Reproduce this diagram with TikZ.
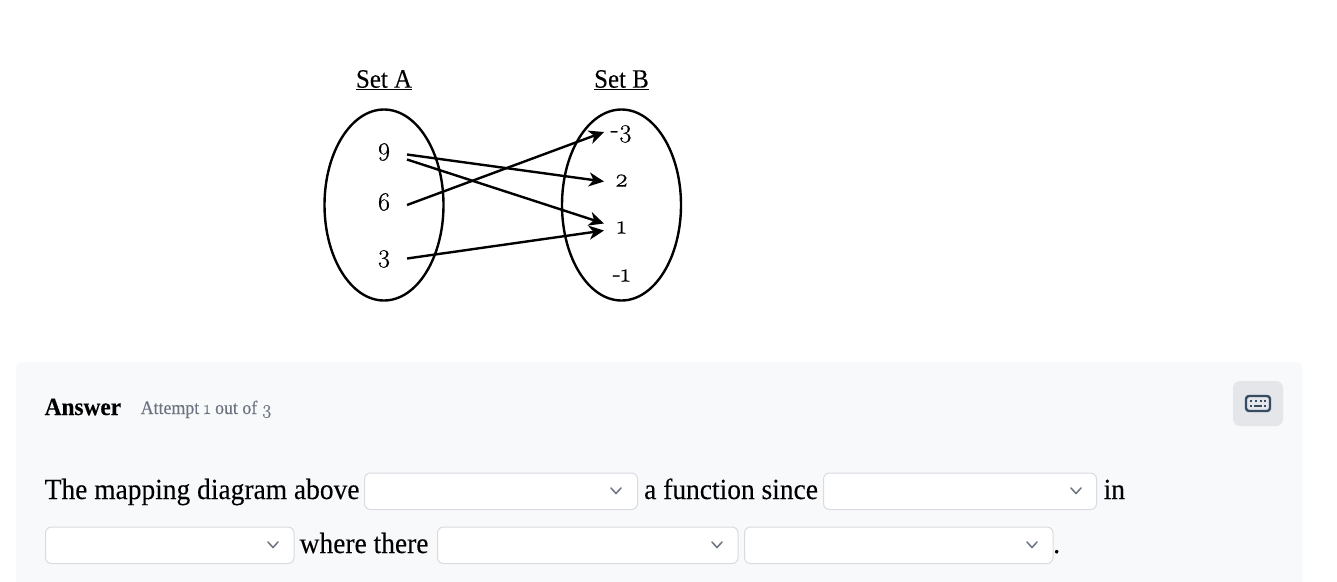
\documentclass[tikz,border=0pt]{standalone}
\usepackage{fontspec}
\setmainfont[FakeStretch=0.94,FakeBold=0.12]{Liberation Serif}
\newfontfamily\osf[Numbers=OldStyle,FakeBold=0.45]{Latin Modern Roman}
\usetikzlibrary{arrows.meta}
\definecolor{panel}{HTML}{F8F9FB}
\definecolor{boxline}{HTML}{D9DBDF}
\definecolor{chev}{HTML}{6B7280}
\definecolor{kbbg}{HTML}{E4E6E9}
\definecolor{kbink}{HTML}{374B63}
\definecolor{grayt}{HTML}{6B7280}
\tikzset{
 x=1pt,y=-1pt,
 oval/.style={draw=black,line width=2.4pt},
 conn/.style={draw=black,line width=2.4pt,-{Stealth[length=15pt,width=14pt,inset=4.5pt]}},
 setlabel/.style={inner sep=0pt,font=\fontsize{26.5}{26.5}\selectfont},
 elem/.style={inner sep=0pt,font=\fontsize{26}{26}\selectfont\osf},
 bodytext/.style={inner sep=0pt,anchor=base west,font=\fontsize{29.2}{29.2}\selectfont},
 dropbox/.style={draw=boxline,fill=white,line width=1pt,rounded corners=6pt,anchor=north west,inner sep=0pt,minimum height=36.5pt},
 chevron/.style={draw=chev,line width=1.5pt,line cap=round,line join=round},
}
\begin{document}
\begin{tikzpicture}
\useasboundingbox (0,0) rectangle (1337,581);
\fill[white] (0,0) rectangle (1337,581);
% set labels
\node[setlabel] (la) at (384,80) {\underline{Set A}};
\node[setlabel] (lb) at (621.5,80) {\underline{Set B}};
% ovals
\draw[oval] (384,205) ellipse [x radius=59.5,y radius=95.5];
\draw[oval] (621.5,205) ellipse [x radius=59.5,y radius=95.5];
% elements
\node[elem] (a9) at (384,152) {9};
\node[elem] (a6) at (384,202) {6};
\node[elem] (a3) at (384,259) {3};
\node[elem] (bm3) at (621.5,134) {-3};
\node[elem] (b2) at (621.5,180.5) {2};
\node[elem] (b1) at (621.5,227.5) {1};
\node[elem] (bm1) at (621.5,275.5) {-1};
% connector ends
\coordinate (s9a) at (407,154.5);
\coordinate (s9b) at (407,159.5);
\coordinate (s6) at (407,205);
\coordinate (s3) at (407,258.5);
\coordinate (tm3) at (604,132);
\coordinate (t2) at (604,181.5);
\coordinate (t1a) at (604,223.5);
\coordinate (t1b) at (604,230.5);
\draw[conn] (s9a) -- (t2);
\draw[conn] (s9b) -- (t1a);
\draw[conn] (s6) -- (tm3);
\draw[conn] (s3) -- (t1b);
% panel
\fill[panel,rounded corners=6pt] (16,362) rectangle (1302.5,600);
\node[inner sep=0pt,anchor=base west,font=\fontsize{24.8}{24.8}\selectfont\bfseries] (ans) at (44.5,415) {Answer};
\node[inner sep=0pt,anchor=base west,text=grayt,font=\fontsize{19}{19}\selectfont] (att) at (140.5,414) {Attempt {\osf 1} out of {\osf 3}};
% keyboard button
\fill[kbbg,rounded corners=7pt] (1233,381) rectangle (1283,426);
\draw[kbink,line width=2.4pt,rounded corners=3pt] (1246,396) rectangle (1270,411);
\foreach \px in {1251,1255.5,1260.5,1265}{\fill[kbink] (\px-1,400) rectangle (\px+1,402);}
\fill[kbink] (1250,405) rectangle (1252,407);
\fill[kbink] (1254,405) rectangle (1262,407);
\fill[kbink] (1264,405) rectangle (1266,407);
% line 1
\node[bodytext] (t1) at (44.5,499) {The mapping diagram above};
\node[dropbox,minimum width=273pt] (d1) at (364,472.5) {};
\node[bodytext] (t2x) at (644,499) {a function since};
\node[dropbox,minimum width=273pt] (d2) at (823,472.5) {};
\node[bodytext] (t3) at (1103.5,499) {in};
% line 2
\node[dropbox,minimum width=248.5pt] (d3) at (45,526.5) {};
\node[bodytext] (t4) at (299.5,553) {where there};
\node[dropbox,minimum width=300.5pt] (d4) at (437,526.5) {};
\node[dropbox,minimum width=308.5pt] (d5) at (744,526.5) {};
\node[bodytext] (t5) at (1053,553) {.};
% chevrons
\foreach \cx/\cy in {616/491,1076/491,273/545,717/545,1032/545}{
 \draw[chevron] (\cx-5,\cy-3) -- (\cx,\cy+2.5) -- (\cx+5,\cy-3);
}
\end{tikzpicture}
\end{document}
